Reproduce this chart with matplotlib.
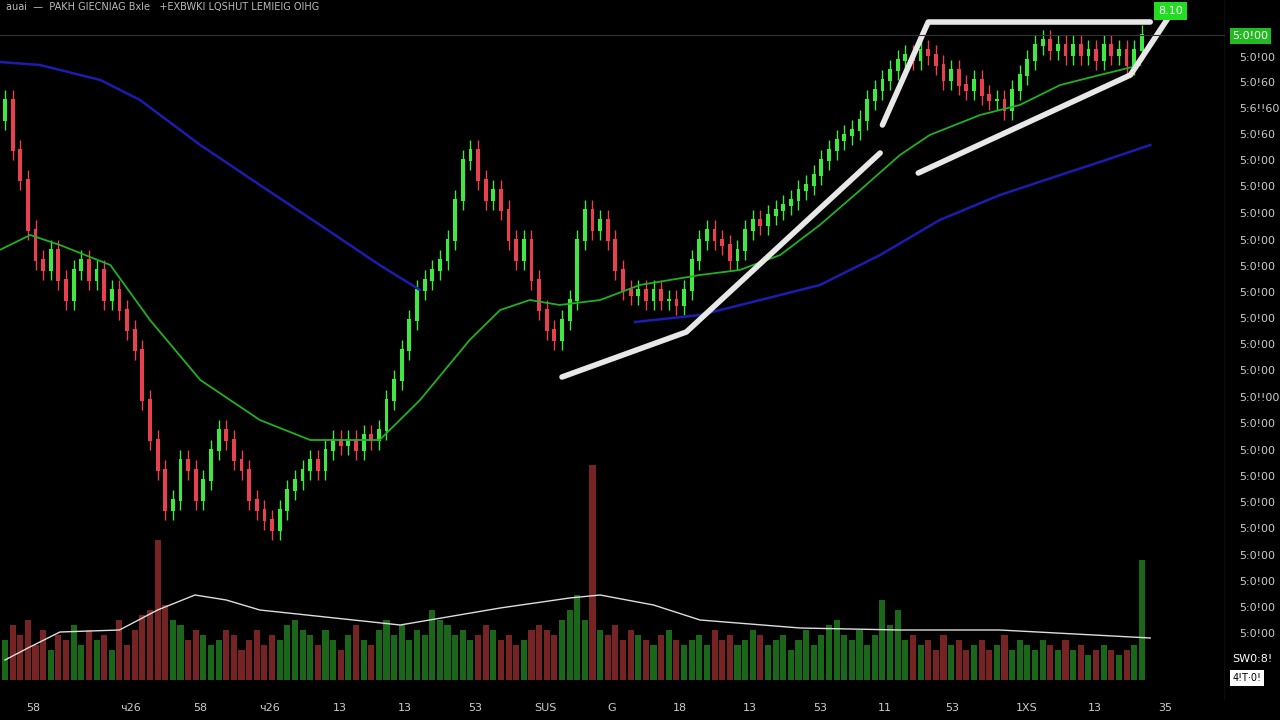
import numpy as np
import matplotlib.pyplot as plt

# closing prices per candle (chart units)
closes = [620, 570, 540, 490, 460, 450, 470, 440, 420, 450,
          460, 440, 450, 420, 430, 410, 390, 370, 320, 280,
          250, 210, 220, 260, 250, 220, 240, 270, 290, 280,
          260, 250, 220, 210, 200, 190, 210, 230, 240, 250,
          260, 250, 270, 280, 275, 280, 270, 285, 280, 290,
          320, 340, 370, 400, 430, 440, 450, 460, 480, 520,
          560, 570, 540, 520, 530, 510, 480, 460, 480, 440,
          410, 390, 380, 400, 420, 480, 510, 490, 500, 480,
          450, 430, 425, 430, 420, 430, 420, 420, 415, 430,
          460, 480, 490, 480, 475, 460, 470, 490, 500, 495,
          505, 510, 515, 520, 530, 535, 545, 560, 570, 580,
          585, 590, 600, 620, 630, 640, 650, 660, 665, 660,
          670, 665, 655, 640, 650, 635, 630, 640, 625, 620,
          620, 610, 630, 645, 660, 675, 680, 670, 675, 665,
          675, 665, 670, 660, 675, 665, 670, 655, 670, 685]
first_open = 600

volumes = [40, 55, 45, 60, 35, 50, 30, 45, 40, 55,
           35, 50, 40, 45, 30, 60, 35, 50, 65, 70,
           140, 75, 60, 55, 40, 50, 45, 35, 40, 50,
           45, 30, 40, 50, 35, 45, 40, 55, 60, 50,
           45, 35, 50, 40, 30, 45, 55, 40, 35, 50,
           60, 45, 55, 40, 50, 45, 70, 60, 55, 45,
           50, 40, 45, 55, 50, 40, 45, 35, 40, 50,
           55, 50, 45, 60, 70, 85, 60, 215, 50, 45,
           55, 40, 50, 45, 40, 35, 45, 50, 40, 35,
           40, 45, 35, 50, 40, 45, 35, 40, 50, 45,
           35, 40, 45, 30, 40, 50, 35, 45, 55, 60,
           45, 40, 50, 35, 45, 80, 55, 70, 40, 45,
           35, 40, 30, 45, 35, 40, 30, 35, 40, 30,
           35, 45, 30, 40, 35, 30, 40, 35, 30, 40,
           30, 35, 25, 30, 35, 30, 25, 30, 35, 120]

green_ma_x = [-0.7, 3.3, 7.2, 13.8, 19, 25.6, 33.4, 40, 49.1, 54.4, 60.9, 64.9, 68.8, 72.7,
              78, 83.2, 91.1, 96.3, 101.6, 106.8, 112.1, 117.3, 121.2, 127.8, 133, 138.3, 143.5, 148.8]
green_ma_y = [470, 485, 475, 455, 400, 340, 300, 280, 280, 320, 380, 410, 420, 415,
              420, 435, 445, 450, 465, 495, 530, 565, 585, 605, 615, 635, 645, 655]
blue_ma_x = [-0.7, 4.6, 12.5, 17.7, 25.6, 33.4, 41.3, 49.1, 54.4, np.nan,
             82.6, 91.1, 99, 106.8, 114.7, 122.5, 130.4, 138.3, 143.5, 150.1]
blue_ma_y = [658, 655, 640, 620, 575, 535, 495, 455, 430, np.nan,
             398, 405, 420, 435, 465, 500, 525, 545, 558, 575]
vol_ma_x = [0, 3, 7.2, 15, 20, 24.9, 29, 33.4, 51.8, 64.9, 74, 78, 85, 91.1, 104.2, 117.3, 130.4, 150.1]
vol_ma_y = [-20, -8, 8, 10, 30, 45, 40, 30, 15, 32, 42, 45, 35, 20, 12, 10, 10, 2]

trend_lines = [
    ([73, 89.3, 114.7], [343, 388, 567]),
    ([115, 121, 150.1], [595, 698, 698]),
    ([119.7, 147.5, 152.7], [547, 645, 705]),
]

xtick_pos = [3.7, 16.4, 25.6, 34.7, 43.9, 52.4, 61.6, 70.8, 79.5, 88.5, 97.6, 106.8, 115.3, 124.2, 133.9, 142.9, 152]
xtick_lab = ["58", "ч26", "58", "ч26", "13", "13", "53", "SUS", "G", "18", "13", "53", "11", "53", "1XS", "13", "35"]
ytick_pos = [663, 638, 612, 586, 560, 534, 507, 480, 454, 428, 402, 376, 350, 323, 297,
             270, 244, 218, 192, 165, 139, 113, 87]
ytick_lab = ["5:0!00", "5:0!60", "5:6!!60", "5:0!60", "5:0!00", "5:0!00", "5:0!00",
             "5:0!00", "5:0!00", "5:0!00", "5:0!00", "5:0!00", "5:0!00", "5:0!!00", "5:0!00",
             "5:0!00", "5:0!00", "5:0!00", "5:0!00", "5:0!00", "5:0!00", "5:0!00", "5:0!00"]

up_col = "#3ee83e"
dn_col = "#e8404f"

fig = plt.figure(figsize=(12.8, 7.2), dpi=100, facecolor="black")
vol = fig.add_axes([0, 40/720, 1225/1280, 300/720])
ax = fig.add_axes([0, 20/720, 1225/1280, 700/720])
xmin, xmax = -0.655, 159.9
for a in (ax, vol):
    a.set_facecolor("none")
    a.set_xlim(xmin, xmax)
    for s in a.spines.values():
        s.set_visible(False)
vol.set_ylim(0, 300)
vol.set_xticks([])
vol.set_yticks([])
ax.set_ylim(20, 720)

closes = np.array(closes, dtype=float)
opens = np.concatenate([[first_open], closes[:-1]])
idx = np.arange(len(closes))
up = closes >= opens
cols = np.where(up, up_col, dn_col)
hi = np.maximum(opens, closes) + 10
lo = np.minimum(opens, closes) - 10

vol.bar(idx, volumes, width=0.8, color=np.where(up, "#1f7a1f", "#8a2a2a"), alpha=0.85)
vol.plot(vol_ma_x, np.array(vol_ma_y) + 40, color="#dddddd", lw=1)

ax.vlines(idx, lo, hi, colors=cols, lw=1)
ax.bar(idx, np.abs(closes - opens) + 2, bottom=np.minimum(opens, closes) - 1,
       width=0.5, color=cols)
ax.plot(green_ma_x, green_ma_y, color="#22b022", lw=1.3)
ax.plot(blue_ma_x, blue_ma_y, color="#1c1cb0", lw=1.8)
for xs, ys in trend_lines:
    ax.plot(xs, ys, color="#e8e8e8", lw=4, solid_capstyle="round")
ax.axhline(685, color="#333333", lw=0.8)

ax.yaxis.tick_right()
ax.set_yticks(ytick_pos)
ax.set_yticklabels(ytick_lab)
ax.tick_params(axis="y", colors="#cccccc", labelsize=8, length=0, pad=10, direction="in")
ax.set_xticks(xtick_pos)
ax.set_xticklabels(xtick_lab)
ax.tick_params(axis="x", colors="#cccccc", labelsize=8, length=0, pad=2)
ax.axvline(xmax, color="#444444", lw=1)

fig.text(0.905, 0.985, "8.10", color="white", fontsize=8, ha="left", va="center",
         bbox=dict(facecolor="#22dd22", edgecolor="none", pad=3))
fig.text(0.963, 0.95, "5:0!00", color="white", fontsize=8, ha="left", va="center",
         bbox=dict(facecolor="#22bb22", edgecolor="none", pad=2))
fig.text(0.963, 0.085, "SW0:8!", color="white", fontsize=8, ha="left", va="center")
fig.text(0.963, 0.058, "4!T·0!", color="black", fontsize=7, ha="left", va="center",
         bbox=dict(facecolor="white", edgecolor="none", pad=2))
fig.text(0.005, 0.99, "auai  —  PAKH GIECNIAG Bxle   +EXBWKI LQSHUT LEMIEIG OIHG", color="#bbbbbb",
         fontsize=7, ha="left", va="center")

fig.savefig("out.png", dpi=100, facecolor="black")
